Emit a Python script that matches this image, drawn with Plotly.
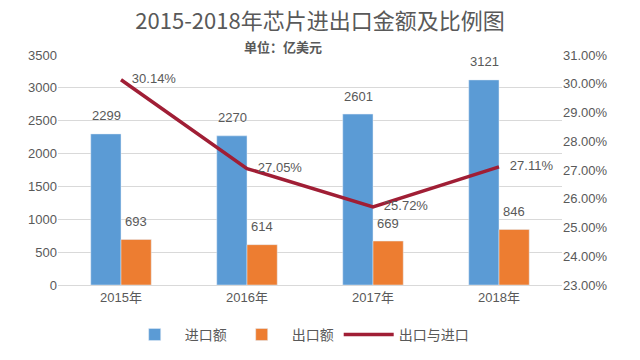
import plotly.graph_objects as go

years = ["2015年", "2016年", "2017年", "2018年"]
imports = [2299, 2270, 2601, 3121]
exports = [693, 614, 669, 846]
ratio = [0.3014, 0.2705, 0.2572, 0.2711]

FONT = "Liberation Sans, Noto Sans CJK SC, sans-serif"
CJK = "Noto Sans CJK SC, sans-serif"
GRAY = "#595959"

fig = go.Figure()
fig.add_trace(go.Bar(x=years, y=imports, name="进口额", marker_color="#5B9BD5"))
fig.add_trace(go.Bar(x=years, y=exports, name="出口额", marker_color="#ED7D31"))
fig.add_trace(go.Scatter(
    x=years, y=ratio, name="出口与进口", yaxis="y2", mode="lines+text",
    line=dict(color="#A01E35", width=3.5),
    text=[f"   {v*100:.2f}%" for v in ratio], textposition="middle right",
    textfont=dict(size=13, color=GRAY), cliponaxis=False,
))

annotations = []
for series, dx in ((imports, -15), (exports, 15)):
    for yr, v in zip(years, series):
        annotations.append(dict(x=yr, y=v, xref="x", yref="y", text=str(v),
                                showarrow=False, xshift=dx, yshift=18,
                                font=dict(size=13, color=GRAY, family=FONT)))
annotations.append(dict(text="<b>单位：亿美元</b>", xref="paper", yref="paper",
                        x=0.446, y=1.035, xanchor="center", yanchor="middle",
                        showarrow=False, font=dict(family=CJK, size=13, color=GRAY)))

fig.update_layout(
    width=640, height=360,
    margin=dict(l=50, r=86, t=47, b=83, autoexpand=False),
    paper_bgcolor="white", plot_bgcolor="white",
    font=dict(family=FONT, color=GRAY, size=13),
    barmode="group", bargap=0.52, bargroupgap=0,
    title=dict(text="2015-2018年芯片进出口金额及比例图", xref="container", x=0.4875,
               xanchor="center", yref="container", y=0.962, yanchor="middle",
               font=dict(family=CJK, size=22, color=GRAY)),
    xaxis=dict(showgrid=False, showline=True, linecolor="#D9D9D9",
               ticks="", tickfont=dict(size=13, color=GRAY, family=FONT)),
    yaxis=dict(range=[0, 3500], dtick=500, showgrid=True, gridcolor="#D9D9D9",
               zeroline=False, ticks="", tickfont=dict(size=13, color=GRAY)),
    yaxis2=dict(range=[0.23, 0.31], dtick=0.01, tickformat=".2%", overlaying="y",
                side="right", showgrid=False, zeroline=False,
                tickfont=dict(size=13, color=GRAY)),
    legend=dict(orientation="h", xref="container", x=0.455, xanchor="center",
                yref="container", y=0.092, yanchor="middle",
                font=dict(family=CJK, size=14, color=GRAY), traceorder="normal",
                itemwidth=50),
    annotations=annotations,
)

fig.write_html("out.html")
